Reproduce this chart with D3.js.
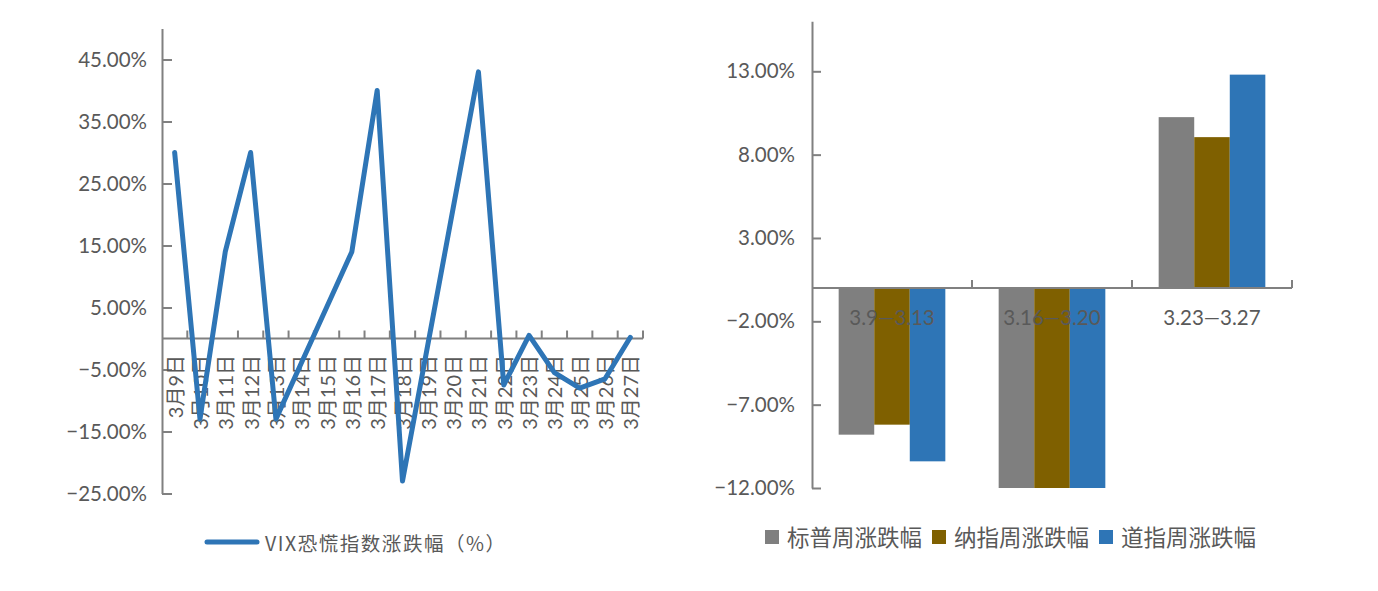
<!DOCTYPE html>
<html>
<head>
<meta charset="utf-8">
<script src="https://cdn.jsdelivr.net/npm/d3@7"></script>
<style>
  body { margin: 0; background: #fff; }
  svg { display: block; }
  text { font-family: Lato, "Noto Sans CJK SC", sans-serif; fill: #595959; }
</style>
</head>
<body>
<div id="vis"></div>
<script>
// left chart: daily VIX change (%)
var days = ['3月9日', '3月10日', '3月11日', '3月12日', '3月13日', '3月14日', '3月15日',
            '3月16日', '3月17日', '3月18日', '3月19日', '3月20日', '3月21日', '3月22日',
            '3月23日', '3月24日', '3月25日', '3月26日', '3月27日'];
var vixChange = [30, -13, 14, 30, -13, -4, 5, 14, 40, -23, -1, 21, 43, -7.5, 0.5, -5.5, -8, -6.5, 0.2];
var vixTicks = [-25, -15, -5, 5, 15, 25, 35, 45];
var vixName = 'VIX恐慌指数涨跌幅（%）';

// right chart: weekly index change (%)
var weeks = ['3.9—3.13', '3.16—3.20', '3.23—3.27'];
var seriesNames = ['标普周涨跌幅', '纳指周涨跌幅', '道指周涨跌幅'];
var spx = [-8.8, -12, 10.25];
var ndx = [-8.2, -12, 9.05];
var dji = [-10.4, -12, 12.8];
var weekTicks = [-12, -7, -2, 3, 8, 13];

var width = 1378,
    height = 591,
    axisColor = '#808080',
    lineColor = '#2E75B6',
    barColors = ['#7F7F7F', '#7F6000', '#2E75B6'];

var svg = d3.select('#vis')
  .append('svg')
    .attr('width', width)
    .attr('height', height);

var fmt = function(d) { return d3.format('.2f')(d) + '%'; };

// ---------- left chart ----------
var xDay = d3.scaleBand()
  .domain(days)
  .range([162, 643]);

var yVix = d3.scaleLinear()
  .domain([-25, 50])
  .range([493.5, 28.5]);

var left = svg.append('g');

left.append('g')
    .attr('transform', 'translate(162,0)')
    .call(d3.axisLeft(yVix).tickValues(vixTicks).tickFormat(fmt)
      .tickSize(-10).tickSizeOuter(0).tickPadding(15))
    .call(function(g) {
      g.selectAll('path, line').attr('stroke', axisColor).attr('stroke-width', 2);
      g.selectAll('text').attr('font-size', 20.5).style('fill', '#595959')
        .style('font-family', 'Lato, sans-serif');
    });

// horizontal category axis at zero
left.append('line')
    .attr('x1', 162).attr('x2', 643)
    .attr('y1', yVix(0)).attr('y2', yVix(0))
    .attr('stroke', axisColor)
    .attr('stroke-width', 2);

left.selectAll('.xtick')
    .data(days.slice(1).concat(['end']))
    .enter()
    .append('line')
      .attr('x1', function(d) { return d === 'end' ? 643 : xDay(d); })
      .attr('x2', function(d) { return d === 'end' ? 643 : xDay(d); })
      .attr('y1', yVix(0))
      .attr('y2', yVix(0) - 8)
      .attr('stroke', axisColor)
      .attr('stroke-width', 2);

left.selectAll('.xlabel')
    .data(days)
    .enter()
    .append('text')
      .attr('transform', function(d) {
        return 'translate(' + (xDay(d) + xDay.bandwidth() / 2) + ',355) rotate(-90)';
      })
      .attr('text-anchor', 'end')
      .attr('dominant-baseline', 'central')
      .attr('font-size', 20)
      .text(function(d) { return d; });

var vixLine = d3.line()
  .x(function(d, i) { return xDay(days[i]) + xDay.bandwidth() / 2; })
  .y(function(d) { return yVix(d); });

left.append('path')
    .datum(vixChange)
    .attr('d', vixLine)
    .attr('fill', 'none')
    .attr('stroke', lineColor)
    .attr('stroke-width', 5)
    .attr('stroke-linejoin', 'round')
    .attr('stroke-linecap', 'round');

// legend
left.append('line')
    .attr('x1', 207).attr('x2', 257)
    .attr('y1', 542).attr('y2', 542)
    .attr('stroke', lineColor)
    .attr('stroke-width', 5)
    .attr('stroke-linecap', 'round');

left.append('text')
    .attr('x', 265)
    .attr('y', 542)
    .attr('dominant-baseline', 'central')
    .attr('font-size', 19.5)
    .attr('textLength', 240)
    .attr('lengthAdjust', 'spacing')
    .style('font-family', '"Noto Sans CJK SC", sans-serif')
    .text(vixName);

// ---------- right chart ----------
var weekData = weeks.map(function(w, i) {
  return { week: w, values: [spx[i], ndx[i], dji[i]] };
});

var xWeek = d3.scaleBand()
  .domain(weeks)
  .range([812, 1292]);

var xSeries = d3.scaleBand()
  .domain(d3.range(seriesNames.length))
  .range([xWeek.bandwidth() / 6, xWeek.bandwidth() * 5 / 6]);

var yWeek = d3.scaleLinear()
  .domain([-12, 16])
  .range([488, 21.3])
  .clamp(true);

var right = svg.append('g');

right.append('g')
    .attr('transform', 'translate(812,0)')
    .call(d3.axisLeft(yWeek).tickValues(weekTicks).tickFormat(fmt)
      .tickSize(-9).tickSizeOuter(0).tickPadding(17))
    .call(function(g) {
      g.selectAll('path, line').attr('stroke', axisColor).attr('stroke-width', 2);
      g.selectAll('text').attr('font-size', 20.5).style('fill', '#595959')
        .style('font-family', 'Lato, sans-serif');
    });

var groups = right.selectAll('.week')
  .data(weekData)
  .enter()
  .append('g')
    .attr('transform', function(d) { return 'translate(' + xWeek(d.week) + ',0)'; });

groups.selectAll('rect')
    .data(function(d) { return d.values; })
    .enter()
    .append('rect')
      .attr('x', function(d, i) { return xSeries(i); })
      .attr('width', xSeries.bandwidth())
      .attr('y', function(d) { return yWeek(Math.max(d, 0)); })
      .attr('height', function(d) { return Math.abs(yWeek(d) - yWeek(0)); })
      .style('fill', function(d, i) { return barColors[i]; });

right.append('line')
    .attr('x1', 812).attr('x2', 1292)
    .attr('y1', yWeek(0)).attr('y2', yWeek(0))
    .attr('stroke', axisColor)
    .attr('stroke-width', 2);

right.selectAll('.wtick')
    .data(weeks.slice(1).concat(['end']))
    .enter()
    .append('line')
      .attr('x1', function(d) { return d === 'end' ? 1292 : xWeek(d); })
      .attr('x2', function(d) { return d === 'end' ? 1292 : xWeek(d); })
      .attr('y1', yWeek(0))
      .attr('y2', yWeek(0) - 8)
      .attr('stroke', axisColor)
      .attr('stroke-width', 2);

right.selectAll('.wlabel')
    .data(weeks)
    .enter()
    .append('text')
      .attr('x', function(d) { return xWeek(d) + xWeek.bandwidth() / 2; })
      .attr('y', yWeek(0) + 29)
      .attr('text-anchor', 'middle')
      .attr('dominant-baseline', 'central')
      .attr('font-size', 20.5)
      .text(function(d) { return d; });

// legend
var legendX = [765, 932, 1099];
var legend = right.selectAll('.legend')
  .data(seriesNames)
  .enter()
  .append('g')
    .attr('transform', function(d, i) { return 'translate(' + legendX[i] + ',537)'; });

legend.append('rect')
    .attr('x', 0)
    .attr('y', -7)
    .attr('width', 14)
    .attr('height', 14)
    .style('fill', function(d, i) { return barColors[i]; });

legend.append('text')
    .attr('x', 22)
    .attr('y', 0)
    .attr('dominant-baseline', 'central')
    .attr('font-size', 22.5)
    .text(function(d) { return d; });
</script>
</body>
</html>
